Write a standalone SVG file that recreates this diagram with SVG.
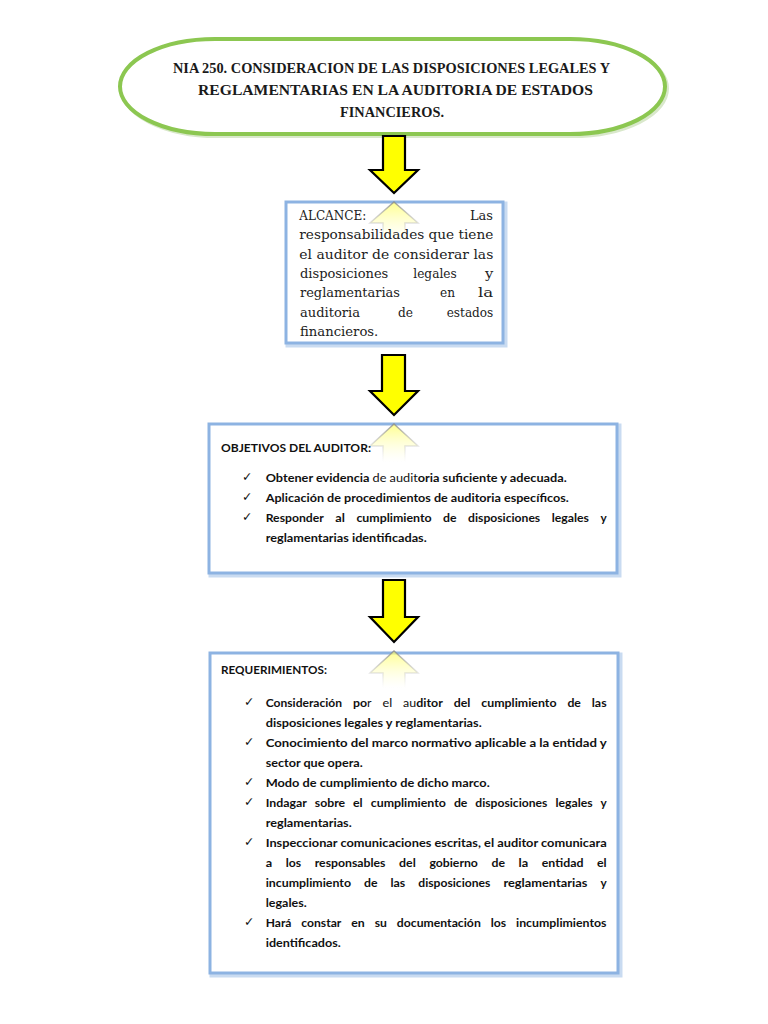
<svg xmlns="http://www.w3.org/2000/svg" width="768" height="1024" viewBox="0 0 768 1024">
<style>
  .bg{fill:#ffffff}
  .oval{fill:#ffffff;stroke:#8cc751;stroke-width:4}
  .ovalsh{fill:none;stroke:#d9e8cb;stroke-width:4}
  .box{fill:#ffffff;stroke:#8db3e2;stroke-width:3}
  .boxsh{fill:none;stroke:#c9dbf1;stroke-width:5}
  .arrow{fill:#ffff00;stroke:#000000;stroke-width:2.2;stroke-linejoin:miter}
  .refl{fill:url(#rg);stroke:url(#rs);stroke-width:1.5}
  .ttl{font-family:"Liberation Serif","Times New Roman",serif;font-weight:bold;font-size:14px;fill:#1a1a1a}
  .ser{font-family:"DejaVu Serif","Liberation Serif",serif;font-size:12.5px;fill:#222222}
  .sb{font-family:Lato,"Liberation Sans",Arial,sans-serif;font-weight:bold;font-size:12px;fill:#111111}
  .nw{font-weight:normal}
  .chk{font-family:"DejaVu Sans",sans-serif;font-size:12.5px;fill:#111111}
</style>
<defs>
  <linearGradient id="rg" x1="0" y1="0" x2="0" y2="1">
    <stop offset="0" stop-color="#ffff66" stop-opacity="0.75"/>
    <stop offset="1" stop-color="#ffffcc" stop-opacity="0"/>
  </linearGradient>
  <linearGradient id="rs" x1="0" y1="0" x2="0" y2="1">
    <stop offset="0" stop-color="#888888" stop-opacity="0.8"/>
    <stop offset="1" stop-color="#cccccc" stop-opacity="0"/>
  </linearGradient>
</defs>
<rect class="bg" x="0" y="0" width="768" height="1024"/>

<g id="node-title">
  <rect class="ovalsh" x="122" y="41" width="545" height="95" rx="95" ry="47.5"/>
  <rect class="oval" x="120" y="39" width="545" height="95" rx="95" ry="47.5"/>
  <text class="ttl" x="173" y="73" textLength="437" lengthAdjust="spacingAndGlyphs">NIA 250. CONSIDERACION DE LAS DISPOSICIONES LEGALES Y</text>
  <text class="ttl" x="198" y="95" textLength="395" lengthAdjust="spacingAndGlyphs">REGLAMENTARIAS EN LA AUDITORIA DE ESTADOS</text>
  <text class="ttl" x="340" y="117" textLength="104" lengthAdjust="spacingAndGlyphs">FINANCIEROS.</text>
</g>

<g id="connectors">
  <polygon class="arrow" points="383,136 405,136 405,170 418,170 394,193 370,170 383,170"/>
  <polygon class="arrow" points="382,355 405,355 405,391 418,391 394,415 370,391 382,391"/>
  <polygon class="arrow" points="383,580 405,580 405,617 418,617 394,642 370,617 383,617"/>
</g>

<g id="node-alcance">
  <rect class="boxsh" x="288" y="204" width="217" height="141"/>
  <rect class="box" x="286" y="202" width="217" height="141"/>
  <polygon class="refl" points="394,202 418,223 405,223 405,242 383,242 383,223 370,223"/>
  <text class="ser" x="299.3" y="220" textLength="67" lengthAdjust="spacingAndGlyphs">ALCANCE:</text>
  <text class="ser" x="470" y="220" textLength="23" lengthAdjust="spacingAndGlyphs">Las</text>
  <text class="ser" x="299.3" y="239.3" textLength="194" lengthAdjust="spacingAndGlyphs">responsabilidades que tiene</text>
  <text class="ser" x="299.3" y="258.6" textLength="194" lengthAdjust="spacingAndGlyphs">el auditor de considerar las</text>
  <text class="ser" x="300" y="277.9" textLength="88.3" lengthAdjust="spacingAndGlyphs">disposiciones</text>
  <text class="ser" x="413.3" y="277.9" textLength="43.4" lengthAdjust="spacingAndGlyphs">legales</text>
  <text class="ser" x="485" y="277.9" textLength="8.3" lengthAdjust="spacingAndGlyphs">y</text>
  <text class="ser" x="300" y="297.2" textLength="100" lengthAdjust="spacingAndGlyphs">reglamentarias</text>
  <text class="ser" x="440" y="297.2" textLength="15" lengthAdjust="spacingAndGlyphs">en</text>
  <text class="ser" x="478" y="297.2" textLength="15.3" lengthAdjust="spacingAndGlyphs">la</text>
  <text class="ser" x="300" y="316.5" textLength="60" lengthAdjust="spacingAndGlyphs">auditoria</text>
  <text class="ser" x="398" y="316.5" textLength="15" lengthAdjust="spacingAndGlyphs">de</text>
  <text class="ser" x="446.7" y="316.5" textLength="46.6" lengthAdjust="spacingAndGlyphs">estados</text>
  <text class="ser" x="300" y="335.8" textLength="78.3" lengthAdjust="spacingAndGlyphs">financieros.</text>
</g>

<g id="node-objetivos">
  <rect class="boxsh" x="211" y="426" width="408" height="149"/>
  <rect class="box" x="209" y="424" width="408" height="149"/>
  <polygon class="refl" points="394,424 418,446 405,446 405,462 383,462 383,446 370,446"/>
  <text class="sb" x="221" y="452" textLength="150" lengthAdjust="spacingAndGlyphs">OBJETIVOS DEL AUDITOR:</text>
  <text class="chk" x="242" y="481">✓</text>
  <text class="chk" x="242" y="501">✓</text>
  <text class="chk" x="242" y="521">✓</text>
  <text class="sb" x="265.7" y="482" textLength="301" lengthAdjust="spacingAndGlyphs">Obtener evidencia <tspan class="nw">de audit</tspan>oria suficiente y adecuada.</text>
  <text class="sb" x="265.7" y="502" textLength="303" lengthAdjust="spacingAndGlyphs">Aplicación de procedimientos de auditoria específicos.</text>
  <text class="sb" x="265.7" y="522" textLength="58.1" lengthAdjust="spacingAndGlyphs">Responder</text>
  <text class="sb" x="335.3" y="522" textLength="9.6" lengthAdjust="spacingAndGlyphs">al</text>
  <text class="sb" x="356.4" y="522" textLength="75.2" lengthAdjust="spacingAndGlyphs">cumplimiento</text>
  <text class="sb" x="443.1" y="522" textLength="13.5" lengthAdjust="spacingAndGlyphs">de</text>
  <text class="sb" x="468.1" y="522" textLength="72.1" lengthAdjust="spacingAndGlyphs">disposiciones</text>
  <text class="sb" x="551.7" y="522" textLength="37.2" lengthAdjust="spacingAndGlyphs">legales</text>
  <text class="sb" x="600.4" y="522" textLength="6.2" lengthAdjust="spacingAndGlyphs">y</text>
  <text class="sb" x="265.7" y="542" textLength="161" lengthAdjust="spacingAndGlyphs">reglamentarias identificadas.</text>
</g>

<g id="node-requerimientos">
  <rect class="boxsh" x="212" y="655" width="408" height="320"/>
  <rect class="box" x="210" y="653" width="408" height="320"/>
  <polygon class="refl" points="394,651 418,673 405,673 405,688 383,688 383,673 370,673"/>
  <text class="sb" x="221" y="674" textLength="106" lengthAdjust="spacingAndGlyphs">REQUERIMIENTOS:</text>
  <text class="chk" x="244" y="706">✓</text>
  <text class="chk" x="244" y="746">✓</text>
  <text class="chk" x="244" y="786">✓</text>
  <text class="chk" x="244" y="806">✓</text>
  <text class="chk" x="244" y="846">✓</text>
  <text class="chk" x="244" y="926">✓</text>

  <text class="sb" x="265.7" y="707" textLength="76.4" lengthAdjust="spacingAndGlyphs">Consideración</text>
  <text class="sb" x="353" y="707" textLength="18.6" lengthAdjust="spacingAndGlyphs">po<tspan class="nw">r</tspan></text>
  <text class="sb nw" x="382.5" y="707" textLength="9.7" lengthAdjust="spacingAndGlyphs">el</text>
  <text class="sb" x="403.1" y="707" textLength="39.7" lengthAdjust="spacingAndGlyphs"><tspan class="nw">au</tspan>ditor</text>
  <text class="sb" x="453.7" y="707" textLength="16.7" lengthAdjust="spacingAndGlyphs">del</text>
  <text class="sb" x="481.3" y="707" textLength="75.2" lengthAdjust="spacingAndGlyphs">cumplimiento</text>
  <text class="sb" x="567.4" y="707" textLength="13.5" lengthAdjust="spacingAndGlyphs">de</text>
  <text class="sb" x="591.8" y="707" textLength="14.8" lengthAdjust="spacingAndGlyphs">las</text>

  <text class="sb" x="265.7" y="727" textLength="216" lengthAdjust="spacingAndGlyphs">disposiciones legales y reglamentarias.</text>
  <text class="sb" x="265.7" y="747" textLength="341" lengthAdjust="spacingAndGlyphs">Conocimiento del marco normativo aplicable a la entidad y</text>
  <text class="sb" x="265.7" y="767" textLength="97" lengthAdjust="spacingAndGlyphs">sector que opera.</text>
  <text class="sb" x="265.7" y="787" textLength="224" lengthAdjust="spacingAndGlyphs">Modo de cumplimiento de dicho marco.</text>

  <text class="sb" x="265.7" y="807" textLength="41.1" lengthAdjust="spacingAndGlyphs">Indagar</text>
  <text class="sb" x="314.8" y="807" textLength="30.3" lengthAdjust="spacingAndGlyphs">sobre</text>
  <text class="sb" x="353" y="807" textLength="9.7" lengthAdjust="spacingAndGlyphs">el</text>
  <text class="sb" x="370.7" y="807" textLength="75.2" lengthAdjust="spacingAndGlyphs">cumplimiento</text>
  <text class="sb" x="453.9" y="807" textLength="13.5" lengthAdjust="spacingAndGlyphs">de</text>
  <text class="sb" x="475.3" y="807" textLength="72.1" lengthAdjust="spacingAndGlyphs">disposiciones</text>
  <text class="sb" x="555.4" y="807" textLength="37.2" lengthAdjust="spacingAndGlyphs">legales</text>
  <text class="sb" x="600.5" y="807" textLength="6.2" lengthAdjust="spacingAndGlyphs">y</text>

  <text class="sb" x="265.7" y="827" textLength="86" lengthAdjust="spacingAndGlyphs">reglamentarias.</text>
  <text class="sb" x="265.7" y="847" textLength="341" lengthAdjust="spacingAndGlyphs">Inspeccionar comunicaciones escritas, el auditor comunicara</text>

  <text class="sb" x="265.7" y="867" textLength="6.4" lengthAdjust="spacingAndGlyphs">a</text>
  <text class="sb" x="285.7" y="867" textLength="15.4" lengthAdjust="spacingAndGlyphs">los</text>
  <text class="sb" x="314.7" y="867" textLength="70.8" lengthAdjust="spacingAndGlyphs">responsables</text>
  <text class="sb" x="399.1" y="867" textLength="16.7" lengthAdjust="spacingAndGlyphs">del</text>
  <text class="sb" x="429.4" y="867" textLength="48.5" lengthAdjust="spacingAndGlyphs">gobierno</text>
  <text class="sb" x="491.5" y="867" textLength="13.5" lengthAdjust="spacingAndGlyphs">de</text>
  <text class="sb" x="518.6" y="867" textLength="9.6" lengthAdjust="spacingAndGlyphs">la</text>
  <text class="sb" x="541.8" y="867" textLength="41.6" lengthAdjust="spacingAndGlyphs">entidad</text>
  <text class="sb" x="597" y="867" textLength="9.7" lengthAdjust="spacingAndGlyphs">el</text>

  <text class="sb" x="265.7" y="887" textLength="85.3" lengthAdjust="spacingAndGlyphs">incumplimiento</text>
  <text class="sb" x="364" y="887" textLength="13.5" lengthAdjust="spacingAndGlyphs">de</text>
  <text class="sb" x="390.5" y="887" textLength="14.8" lengthAdjust="spacingAndGlyphs">las</text>
  <text class="sb" x="418.3" y="887" textLength="72.1" lengthAdjust="spacingAndGlyphs">disposiciones</text>
  <text class="sb" x="503.4" y="887" textLength="84" lengthAdjust="spacingAndGlyphs">reglamentarias</text>
  <text class="sb" x="600.4" y="887" textLength="6.2" lengthAdjust="spacingAndGlyphs">y</text>

  <text class="sb" x="265.7" y="907" textLength="41" lengthAdjust="spacingAndGlyphs">legales.</text>

  <text class="sb" x="265.7" y="927" textLength="25.7" lengthAdjust="spacingAndGlyphs">Hará</text>
  <text class="sb" x="301.3" y="927" textLength="40.1" lengthAdjust="spacingAndGlyphs">constar</text>
  <text class="sb" x="351.3" y="927" textLength="13.5" lengthAdjust="spacingAndGlyphs">en</text>
  <text class="sb" x="374.7" y="927" textLength="12.2" lengthAdjust="spacingAndGlyphs">su</text>
  <text class="sb" x="396.8" y="927" textLength="84" lengthAdjust="spacingAndGlyphs">documentación</text>
  <text class="sb" x="490.7" y="927" textLength="15.4" lengthAdjust="spacingAndGlyphs">los</text>
  <text class="sb" x="516" y="927" textLength="90.5" lengthAdjust="spacingAndGlyphs">incumplimientos</text>

  <text class="sb" x="265.7" y="947" textLength="75" lengthAdjust="spacingAndGlyphs">identificados.</text>
</g>
</svg>
